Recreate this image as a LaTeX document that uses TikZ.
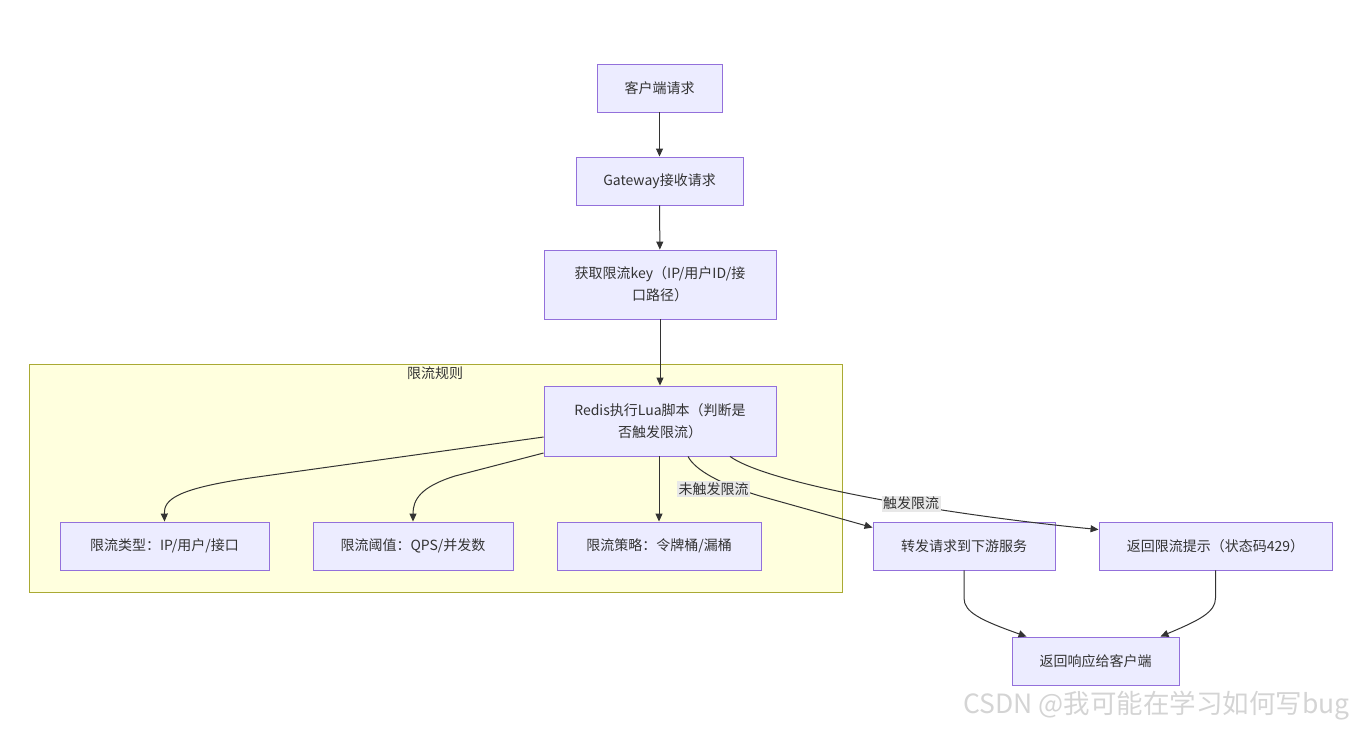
\documentclass[tikz,border=0pt]{standalone}
\usepackage{fontspec}
\setmainfont{Noto Sans CJK SC}
\usetikzlibrary{arrows.meta,calc}
\definecolor{nodefill}{HTML}{ECECFF}
\definecolor{nodeline}{HTML}{9370DB}
\definecolor{subfill}{HTML}{FFFFDE}
\definecolor{subline}{HTML}{AAAA33}
\definecolor{txt}{HTML}{333333}
\definecolor{lblbg}{HTML}{E8E8E8}
\definecolor{wm}{HTML}{D4D4D4}
\tikzset{
  box/.style={draw=nodeline, fill=nodefill, line width=0.9pt, text=txt, align=center,
    font=\fontsize{14}{22}\selectfont, inner sep=0pt},
  conn/.style={draw=txt, line width=1pt, -{Triangle[length=8pt,width=7pt]}},
  elabel/.style={fill=lblbg, text=txt, font=\fontsize{14}{16}\selectfont, inner sep=1.5pt}
}
\begin{document}
\begin{tikzpicture}[x=1pt,y=-1pt]
\useasboundingbox (0,0) rectangle (1356,729);
% subgraph
\node[draw=subline, fill=subfill, line width=0.9pt, minimum width=813pt, minimum height=228pt, inner sep=0pt] (S) at (435.5,478) {};
\node[text=txt, font=\fontsize{14}{16}\selectfont] (St) at (435,373) {限流规则};
% nodes
\node[box, minimum width=125pt, minimum height=48pt] (A) at (659.5,88) {客户端请求};
\node[box, minimum width=167pt, minimum height=48pt] (B) at (659.5,181) {Gateway接收请求};
\node[box, minimum width=232pt, minimum height=69pt] (C) at (660,284.5) {获取限流key（IP/用户ID/接\\口路径）};
\node[box, minimum width=232pt, minimum height=70pt] (D) at (660,421) {Redis执行Lua脚本（判断是\\否触发限流）};
\node[box, minimum width=209pt, minimum height=48pt] (E) at (164.5,546) {限流类型：IP/用户/接口};
\node[box, minimum width=200pt, minimum height=48pt] (F) at (413,546) {限流阈值：QPS/并发数};
\node[box, minimum width=204pt, minimum height=48pt] (G) at (659,546) {限流策略：令牌桶/漏桶};
\node[box, minimum width=182pt, minimum height=48pt] (H) at (964,546) {转发请求到下游服务};
\node[box, minimum width=233pt, minimum height=48pt] (I) at (1215.5,546) {返回限流提示（状态码429）};
\node[box, minimum width=167pt, minimum height=48pt] (J) at (1095.5,661) {返回响应给客户端};
% connectors
\draw[conn] (A) -- (B);
\draw[conn] (B) -- (C);
\draw[conn] (C) -- (D);
\draw[conn] ([yshift=-16pt]D.west) -- (250,478) .. controls (175,489) and (164,500) .. (E.north);
\draw[conn] ([yshift=-32pt]D.west) -- (455,476) .. controls (420,487) and (413,500) .. (F.north);
\draw[conn] (D.south -| G.north) -- (G.north);
\draw[conn] ([xshift=28pt]D.south) .. controls (695,470) and (720,484) .. (760,496) -- ([yshift=-6pt]H.north west);
\draw[conn] ([xshift=70pt]D.south) .. controls (770,485) and (950,515) .. ([yshift=-8pt]I.north west);
\draw[conn] (H.south) -- (964,598) .. controls (964,612) and (980,620) .. ([xshift=15pt]J.north west);
\draw[conn] (I.south) -- (1215.5,598) .. controls (1215.5,612) and (1200,620) .. ([xshift=-19pt]J.north east);
% edge labels
\node[elabel] (L1) at (713.5,489) {未触发限流};
\node[elabel] (L2) at (911,503.5) {触发限流};
% watermark
\node[text=wm, font=\fontsize{26.5}{28}\selectfont, anchor=east] (W) at (1353,706) {CSDN @我可能在学习如何写bug};
\end{tikzpicture}
\end{document}
